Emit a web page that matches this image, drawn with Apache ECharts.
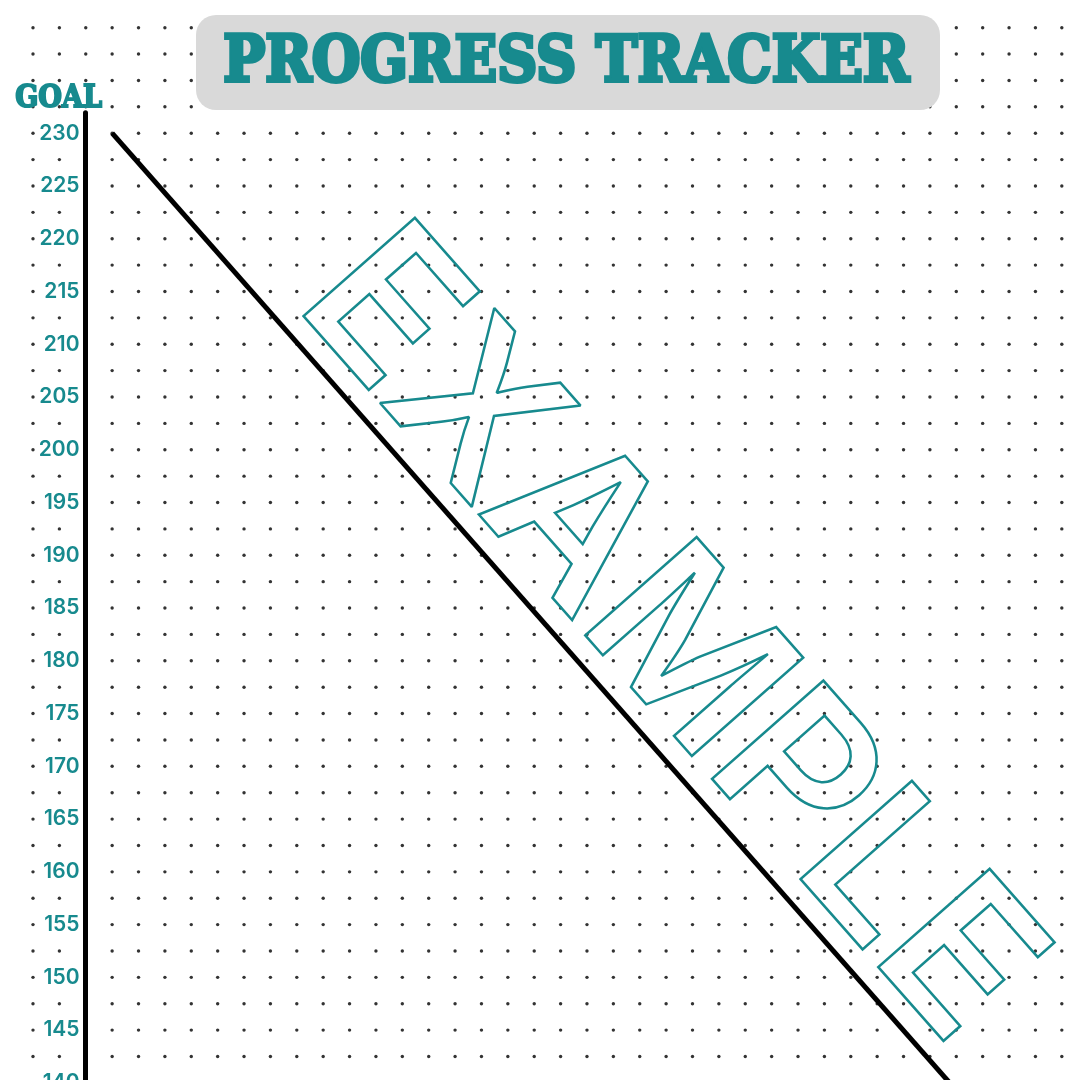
<!DOCTYPE html>
<html><head><meta charset="utf-8">
<script src="https://cdn.jsdelivr.net/npm/echarts@6/dist/echarts.min.js"></script>
<style>html,body{margin:0;padding:0;background:#fff}#c{width:1080px;height:1080px}</style>
</head><body><div id="c"></div>
<script>
// ---- content / data ----
const titleText = 'PROGRESS TRACKER';
const goalLabel = 'GOAL';
const watermark = 'EXAMPLE';
const yMin = 140, yMax = 230, yStep = 5;      // y tick labels 140..230 step 5
const goalX = [3, 34.75];                      // goal line, x in dot-column units
const goalY = [230, 140];                      // goal line values
const dotCols = 40, dotRows = 40;              // dotted background grid
const dotRowTop = 240, dotRowStep = 2.5;

// ---- layout ----
const TEAL = '#178a8e';
const W = 1080, H = 1080;
const colPx = 26.38, col0Px = 33;
const pxPerUnit = 10.552, yTopLabelPx = 133.2;
const xMin0 = -col0Px / colPx, xMax0 = (W - col0Px) / colPx;
const yMax0 = yMax + yTopLabelPx / pxPerUnit, yMin0 = yMax - (H - yTopLabelPx) / pxPerUnit;
const axisTopPx = 112.7;
const yMax1 = yMax + (yTopLabelPx - axisTopPx) / pxPerUnit;
const axisHeightPx = (yMax1 - yMin) * pxPerUnit;

const dots = [];
for (let r = 0; r < dotRows; r++) {
  const v = dotRowTop - r * dotRowStep;
  for (let c = 0; c < dotCols; c++) {
    if (c === 1 && v <= yMax && v >= yMin && v % yStep === 0) continue;
    dots.push([c, v]);
  }
}
const goalData = goalX.map((x, i) => [x, goalY[i]]);

// ---- text fitting ----
const cv = document.createElement('canvas').getContext('2d');
function fit(text, family, weight, inkW, inkH) {
  const test = 100;
  cv.textAlign = 'center'; cv.textBaseline = 'middle';
  cv.font = weight + ' ' + test + 'px ' + family;
  let m = cv.measureText(text);
  const h = m.actualBoundingBoxAscent + m.actualBoundingBoxDescent;
  const fs = test * inkH / h;
  cv.font = weight + ' ' + fs + 'px ' + family;
  m = cv.measureText(text);
  const w = m.actualBoundingBoxLeft + m.actualBoundingBoxRight;
  return {
    font: weight + ' ' + fs + 'px ' + family,
    sx: inkW / w,
    ox: (m.actualBoundingBoxRight - m.actualBoundingBoxLeft) / 2,
    oy: (m.actualBoundingBoxDescent - m.actualBoundingBoxAscent) / 2
  };
}
function textEl(text, family, weight, inkW, inkH, cx, cy, rot, st, z) {
  const f = fit(text, family, weight, inkW, inkH);
  return {
    type: 'text', x: cx, y: cy, rotation: rot, scaleX: f.sx, z: z,
    style: Object.assign({
      text: text, x: -f.ox, y: -f.oy, align: 'center', verticalAlign: 'middle', font: f.font
    }, st)
  };
}

const chart = echarts.init(document.getElementById('c'), null, { renderer: 'canvas' });
chart.setOption({
  animation: false,
  backgroundColor: '#ffffff',
  grid: [
    { left: 0, top: 0, width: W, height: H, containLabel: false, outerBoundsMode: 'none' },
    { left: 85.5, top: axisTopPx, width: 10, height: axisHeightPx, containLabel: false, outerBoundsMode: 'none' }
  ],
  xAxis: [
    { gridIndex: 0, type: 'value', min: xMin0, max: xMax0, show: false },
    { gridIndex: 1, type: 'value', min: 0, max: 1, show: false }
  ],
  yAxis: [
    { gridIndex: 0, type: 'value', min: yMin0, max: yMax0, show: false },
    {
      gridIndex: 1, type: 'value', min: yMin, max: yMax1, interval: yStep,
      axisLine: { show: true, onZero: false, lineStyle: { color: '#000', width: 5 } },
      axisTick: { show: false }, splitLine: { show: false },
      axisLabel: {
        margin: 6, color: TEAL, fontFamily: 'Inter', fontWeight: 600, fontSize: 21,
        formatter: v => (v % yStep === 0 && v <= yMax) ? String(v) : ''
      }
    }
  ],
  series: [
    { type: 'scatter', xAxisIndex: 0, yAxisIndex: 0, data: dots, symbolSize: 3.4,
      itemStyle: { color: '#000' }, silent: true, z: 1 },
    { type: 'line', xAxisIndex: 0, yAxisIndex: 0, data: goalData, symbol: 'none',
      lineStyle: { color: '#000', width: 5, cap: 'butt' }, z: 5 }
  ],
  graphic: [
    textEl(watermark, 'Inter', '600', 968, 149, 678.7, 629.2, -0.8474,
      { fill: 'none', stroke: TEAL, lineWidth: 2.5, lineJoin: 'miter' }, 3),
    { type: 'rect', shape: { x: 196, y: 15, width: 744, height: 95, r: 20 }, style: { fill: '#d9d9d9' }, z: 10 },
    textEl(titleText, '"DejaVu Serif"', 'bold', 685, 47, 567.5, 57.5, 0,
      { fill: TEAL, stroke: TEAL, lineWidth: 4, lineJoin: 'round' }, 11),
    textEl(goalLabel, '"DejaVu Serif"', 'bold', 86, 23.6, 59, 95.5, 0,
      { fill: TEAL, stroke: TEAL, lineWidth: 2, lineJoin: 'round' }, 11)
  ]
});
</script></body></html>
